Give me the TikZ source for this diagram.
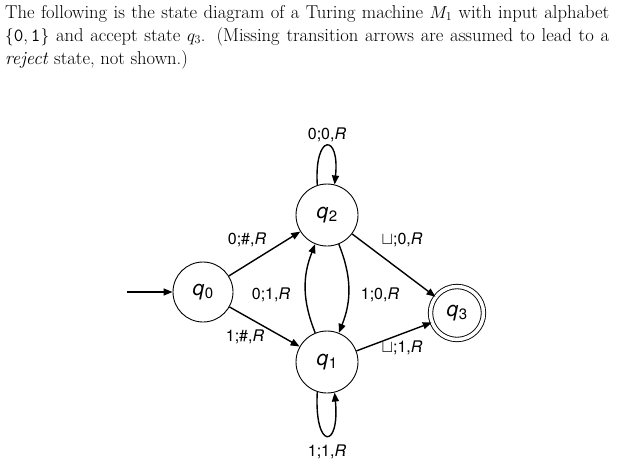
\documentclass[tikz,border=0pt]{standalone}
\usepackage{fontspec}
\setsansfont{TeX Gyre Heros}
\usetikzlibrary{arrows.meta}
\begin{document}
\begin{tikzpicture}[x=1pt,y=-1pt,
  st/.style={circle,draw,line width=0.9pt,minimum size=62pt,inner sep=0pt,font=\sffamily\fontsize{21}{21}\selectfont},
  acc/.style={st,double,double distance=3.5pt,minimum size=53pt},
  tr/.style={-{Triangle[length=9pt,width=7pt]},line width=1.4pt},
  lb/.style={font=\sffamily\fontsize{16}{16}\selectfont,inner sep=1pt}]
\useasboundingbox (0,0) rectangle (626,475);
\node[anchor=north west,text width=604pt,align=justify,inner sep=0pt,font=\fontsize{18.6}{23}\selectfont] (txt) at (5,5)
 {The following is the state diagram of a Turing machine $M_1$ with input alphabet $\{\texttt{0},\texttt{1}\}$ and accept state $q_3$. (Missing transition arrows are as\-sumed to lead to a \emph{reject} state, not shown.)};
\newcommand{\qq}[1]{\textit{q}\kern0.5pt\raisebox{-0.3ex}{\fontsize{15}{15}\selectfont #1}}
\newcommand{\RR}{\textit{R}}
\node[st,minimum size=60pt] (q0) at (203,292) {\qq{0}};
\node[st] (q2) at (327,215) {\qq{2}};
\node[st] (q1) at (327,362) {\qq{1}};
\node[acc] (q3) at (457,313) {\qq{3}};
\coordinate (s) at (127,292);
\draw[tr] (s) -- (q0);
\draw[tr] (q0) -- (q2);
\draw[tr] (q0) -- (q1);
\draw[tr] (q2) -- (q3);
\draw[tr] (q1) -- (q3);
\draw[tr] (q1.112) to[bend left=22] (q2.248);
\draw[tr] (q2.-68) to[bend left=22] (q1.68);
\draw[tr] (q2.108) .. controls (314,133) and (340,133) .. (q2.76);
\draw[tr] (q1.-108) .. controls (314,450) and (340,450) .. (q1.-76);
\node[lb] (l1) at (247,240) {0;\#,\RR};
\node[lb] (l2) at (245,337) {1;\#,\RR};
\node[lb] (l3) at (271,295) {0;1,\RR};
\node[lb] (l4) at (380,295) {1;0,\RR};
\node[lb] (l5) at (402,240) {$\sqcup$;0,\RR};
\node[lb] (l6) at (402,348) {$\sqcup$;1,\RR};
\node[lb] (l7) at (327,135) {0;0,\RR};
\node[lb] (l8) at (327,452) {1;1,\RR};
\end{tikzpicture}
\end{document}
